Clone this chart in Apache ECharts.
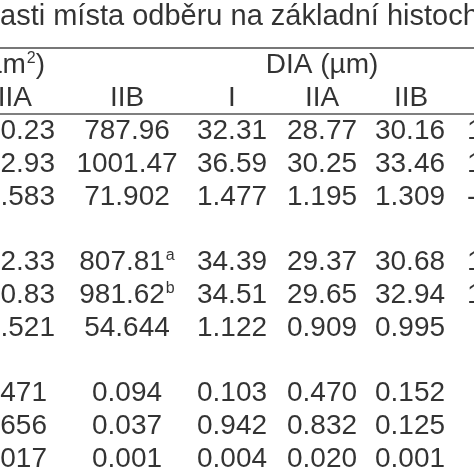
<!DOCTYPE html>
<html><head><meta charset="utf-8">
<script src="https://cdn.jsdelivr.net/npm/echarts@6/dist/echarts.min.js"></script>
<style>html,body{margin:0;background:#fff}#c{width:474px;height:474px}</style>
</head><body><div id="c"></div>
<script>
const titleText = "asti místa odběru na základní histoche";
const groupLabels = ["(µm{s|2})", "DIA (µm)"];
const headers = ["IIA", "IIB", "I", "IIA", "IIB"];
const rowsA = [
  ["0.23", "787.96", "32.31", "28.77", "30.16", "1"],
  ["2.93", "1001.47", "36.59", "30.25", "33.46", "1"],
  [".583", "71.902", "1.477", "1.195", "1.309", "-"]
];
const rowsB = [
  ["2.33", "807.81{s|a}", "34.39", "29.37", "30.68", "1"],
  ["0.83", "981.62{s|b}", "34.51", "29.65", "32.94", "1"],
  [".521", "54.644", "1.122", "0.909", "0.995", ""]
];
const rowsP = [
  ["471", "0.094", "0.103", "0.470", "0.152", ""],
  ["656", "0.037", "0.942", "0.832", "0.125", ""],
  ["017", "0.001", "0.004", "0.020", "0.001", ""]
];
// layout (positions, not data)
const colX = [55, 127, 232, 322, 410, 467];
const colAlign = ["right", "center", "center", "center", "center", "left"];
const rowIndexA = [1, 2, 3], rowIndexB = [5, 6, 7], rowIndexP = [9, 10, 11];

const font = "'Liberation Sans', Arial, sans-serif";
const rich = { s: { fontSize: 16, verticalAlign: 'top', padding: [0, 0, 14, 1], fontFamily: font, color: '#000' } };
const pts = [];
function add(x, y, text, align, extra) {
  pts.push(Object.assign({ value: [x, y], label: { formatter: text, align: align } }, extra || {}));
}
add(0, -2.47, titleText, "left", { label: { formatter: titleText, align: "left", fontSize: 29 } });
add(45, -1, groupLabels[0], "right");
add(322, -1, groupLabels[1], "center");
headers.forEach((h, i) => add(i === 0 ? 32 : [0, 127, 232, 322, 411][i], 0, h, i === 0 ? "right" : "center"));
function addRows(rows, idx, pRows) {
  rows.forEach((r, ri) => r.forEach((t, ci) => {
    if (!t) return;
    const x = (pRows && ci === 0) ? 47 : colX[ci];
    add(x, idx[ri], t, colAlign[ci]);
  }));
}
addRows(rowsA, rowIndexA); addRows(rowsB, rowIndexB); addRows(rowsP, rowIndexP, true);

const chart = echarts.init(document.getElementById('c'));
chart.setOption({
  animation: false,
  grid: { left: 0, right: 0, top: 0, bottom: 0 },
  xAxis: { type: 'value', min: 0, max: 474, show: false },
  yAxis: { type: 'value', min: -3, max: 11.45, inverse: true, show: false },
  series: [{
    type: 'scatter', symbolSize: 1, itemStyle: { color: 'rgba(0,0,0,0)' },
    label: { show: true, position: 'inside', fontSize: 28, fontFamily: font, color: '#000', verticalAlign: 'middle', rich: rich },
    data: pts,
    markLine: {
      symbol: 'none', silent: true, label: { show: false },
      data: [
        [{ coord: [0, -1.55], lineStyle: { color: '#777', width: 2, type: 'solid' } }, { coord: [474, -1.55] }],
        [{ coord: [0, 0.46], lineStyle: { color: '#555', width: 1.5, type: 'solid' } }, { coord: [474, 0.46] }]
      ]
    }
  }]
});
</script></body></html>
